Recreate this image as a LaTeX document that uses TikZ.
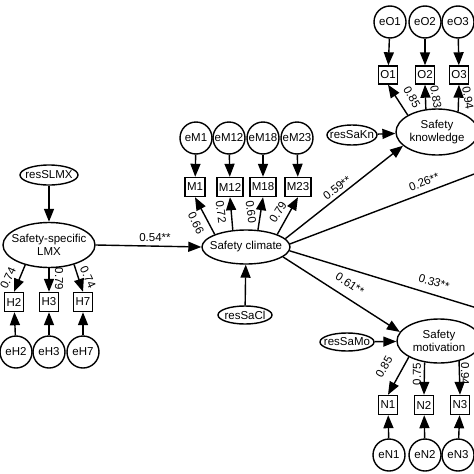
\documentclass[tikz,border=0pt]{standalone}
\usepackage{fontspec}
\setmainfont{Liberation Sans}
\usetikzlibrary{arrows.meta,shapes.geometric}
\begin{document}
\begin{tikzpicture}[x=1pt,y=-1pt,
 every node/.style={font=\fontsize{11.5}{13}\selectfont},
 lat/.style={draw,ellipse,line width=1.4pt,inner sep=-20pt,align=center},
 obs/.style={draw,rectangle,line width=1.4pt,inner xsep=2pt,inner ysep=0pt,minimum height=19pt,minimum width=19pt},
 err/.style={draw,circle,line width=1.4pt,inner sep=0pt,minimum size=32pt},
 arr/.style={line width=1.4pt,-{Triangle[length=13pt,width=10pt]}},
 ln/.style={line width=1.4pt},
 lbl/.style={inner sep=0pt}]
\useasboundingbox (0,0) rectangle (474,474);
\clip (0,0) rectangle (474,474);

% ---- Safety-specific LMX block
\node[lat,minimum width=58pt,minimum height=20pt] (resSLMX) at (49,175) {resSLMX};
\node[lat,minimum width=92pt,minimum height=45pt] (LMX) at (49,245) {Safety-specific\\LMX};
\node[obs] (H2) at (14,302) {H2};
\node[obs] (H3) at (49,302) {H3};
\node[obs] (H7) at (83,302) {H7};
\node[err] (eH2) at (16,352) {eH2};
\node[err] (eH3) at (49,352) {eH3};
\node[err] (eH7) at (83,352) {eH7};

% ---- Safety climate block
\node[lat,minimum width=88pt,minimum height=34pt] (SC) at (246,247) {Safety climate};
\node[lat,minimum width=54pt,minimum height=18pt] (resSaCl) at (245,315) {resSaCl};
\node[obs] (M1) at (195,187) {M1};
\node[obs] (M12) at (230,187) {M12};
\node[obs] (M18) at (263,187) {M18};
\node[obs] (M23) at (298,187) {M23};
\node[err] (eM1) at (196,138) {eM1};
\node[err] (eM12) at (229,138) {eM12};
\node[err] (eM18) at (263,138) {eM18};
\node[err] (eM23) at (297,138) {eM23};

% ---- Safety knowledge block
\node[lat,minimum width=82pt,minimum height=46pt] (SK) at (437,132) {Safety\\knowledge};
\node[lat,minimum width=50pt,minimum height=20pt] (resSaKn) at (352,135) {resSaKn};
\node[obs,minimum height=18pt] (O1) at (388,75) {O1};
\node[obs,minimum height=18pt] (O2) at (425,75) {O2};
\node[obs,minimum height=18pt] (O3) at (459,75) {O3};
\node[err] (eO1) at (390,22) {eO1};
\node[err] (eO2) at (425,22) {eO2};
\node[err] (eO3) at (458,22) {eO3};

% ---- Safety motivation block
\node[lat,minimum width=84pt,minimum height=44pt] (SM) at (439,341) {Safety\\motivation};
\node[lat,minimum width=54pt,minimum height=18pt] (resSaMo) at (347,342) {resSaMo};
\node[obs] (N1) at (388,405) {N1};
\node[obs] (N2) at (424,405) {N2};
\node[obs] (N3) at (460,405) {N3};
\node[err] (eN1) at (389,455) {eN1};
\node[err] (eN2) at (425,455) {eN2};
\node[err] (eN3) at (458,455) {eN3};

\coordinate (k26) at (490,168);
\coordinate (k33) at (490,312);

% ---- connectors
\draw[arr] (resSLMX) -- (LMX);
\draw[arr] (LMX.east) -- (SC.west);
\node[lbl] (l54) at (155,238) {0.54**};

\draw[arr] (LMX.-140) -- (H2.north);
\draw[arr] (LMX.south) -- (H3.north);
\draw[arr] (LMX.-38) -- (H7.north);
\draw[arr] (eH2) -- (H2);
\draw[arr] (eH3) -- (H3);
\draw[arr] (eH7) -- (H7);
\node[lbl,rotate=65] (lH2) at (8,278) {0.74};
\node[lbl,rotate=-90] (lH3) at (59,279) {0.79};
\node[lbl,rotate=-65] (lH7) at (88,277) {0.74};

\draw[arr] (resSaCl) -- (SC);
\draw[arr] (SC.158) -- (M1.south);
\draw[arr] (SC.128) -- (M12.south);
\draw[arr] (SC.55) -- (M18.south);
\draw[arr] (SC.22) -- (M23.south);
\draw[arr] (eM1) -- (M1);
\draw[arr] (eM12) -- (M12);
\draw[arr] (eM18) -- (M18);
\draw[arr] (eM23) -- (M23);
\node[lbl,rotate=-64] (lM1) at (196,223) {0.66};
\node[lbl,rotate=-82] (lM12) at (221,212) {0.72};
\node[lbl,rotate=-82] (lM18) at (251,212) {0.60};
\node[lbl,rotate=58] (lM23) at (278,212) {0.79};

\draw[arr] (SC.12) -- (SK.-158);
\node[lbl,rotate=37] (l59) at (337,188) {0.59**};
\draw[ln] (SC.4) -- (k26);
\node[lbl,rotate=21] (l26) at (424,182) {0.26**};
\draw[ln] (SC.-5) -- (k33);
\node[lbl,rotate=-17] (l33) at (434,282) {0.33**};
\draw[arr] (SC.-15) -- (SM.167);
\node[lbl,rotate=-33] (l61) at (350,284) {0.61**};

\draw[arr] (resSaKn) -- (SK);
\draw[arr] (SK.150) -- (O1.south);
\draw[arr] (SK.116) -- (O2.south);
\draw[arr] (SK.44) -- (O3.south);
\draw[arr] (eO1) -- (O1);
\draw[arr] (eO2) -- (O2);
\draw[arr] (eO3) -- (O3);
\node[lbl,rotate=-60] (lO1) at (412,97) {0.85};
\node[lbl,rotate=-80] (lO2) at (436,97) {0.83};
\node[lbl,rotate=-80] (lO3) at (468,98) {0.94};

\draw[arr] (resSaMo) -- (SM);
\draw[arr] (SM.-152) -- (N1.north);
\draw[arr] (SM.-124) -- (N2.north);
\draw[arr] (SM.-45) -- (N3.north);
\draw[arr] (eN1) -- (N1);
\draw[arr] (eN2) -- (N2);
\draw[arr] (eN3) -- (N3);
\node[lbl,rotate=60] (lN1) at (384,367) {0.85};
\node[lbl,rotate=90] (lN2) at (417,374) {0.75};
\node[lbl,rotate=-90] (lN3) at (465,374) {0.94};
\end{tikzpicture}
\end{document}
